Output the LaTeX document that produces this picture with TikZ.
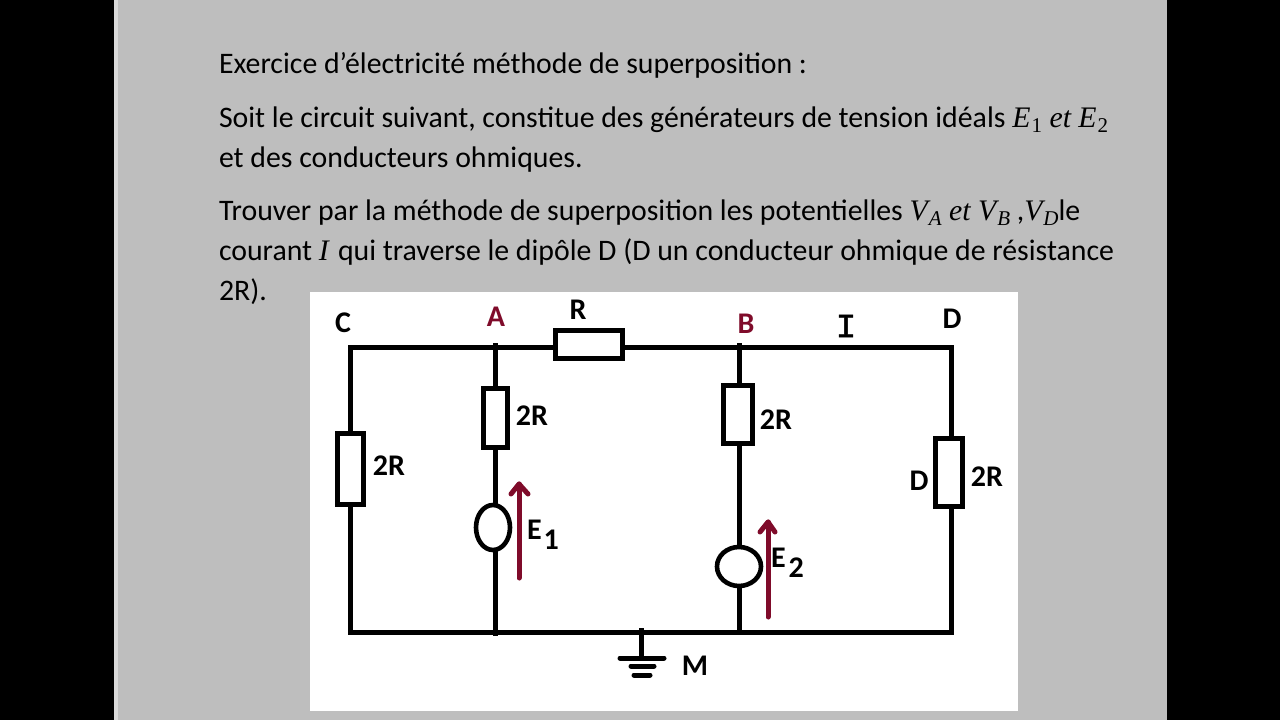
\documentclass[tikz,border=0pt]{standalone}
\usepackage{fontspec}
\setmainfont{Carlito}
\newfontfamily\mthfont{Liberation Serif}
\newfontfamily\monofont[FakeBold=1.5]{Liberation Mono}
\usetikzlibrary{shapes.geometric}
\definecolor{pagegrey}{HTML}{BEBEBE}
\definecolor{edgegrey}{HTML}{DADADA}
\definecolor{darkred}{HTML}{7F0B2A}
\newcommand{\mvar}[2]{{\mthfont\itshape #1\kern1pt\raisebox{-0.2em}{\fontsize{21}{21}\selectfont #2}}}
\newcommand{\mnum}[2]{{\mthfont\itshape #1\kern1pt\raisebox{-0.2em}{\fontsize{21}{21}\selectfont\upshape #2}}}
\newcommand{\met}{{\mthfont\itshape\ et\ }}
\tikzset{
  para/.style={anchor=base west,inner sep=0pt,outer sep=0pt,font=\fontsize{29.8}{34}\selectfont,text=black},
  wire/.style={draw=black,line width=5pt,line cap=butt},
  res/.style={draw=black,fill=white,line width=5pt,rectangle,inner sep=0pt,outer sep=0pt},
  src/.style={draw=black,fill=white,line width=4.6pt,ellipse,inner sep=0pt,outer sep=0pt},
  lbl/.style={inner sep=0pt,outer sep=0pt,font=\fontsize{30}{32}\selectfont\bfseries,text=black},
  redlbl/.style={lbl,text=darkred},
  emfarrow/.style={draw=darkred,line width=5pt,line cap=round,line join=round},
  gbar/.style={draw=black,line width=5pt,line cap=round},
}
\begin{document}
\begin{tikzpicture}[x=1pt,y=-1pt]
\useasboundingbox (0,0) rectangle (1280,720);
\fill[black] (0,0) rectangle (1280,720);
\fill[edgegrey] (114,0) rectangle (118,720);
\fill[pagegrey] (118,0) rectangle (1167,720);
\fill[white] (310,292) rectangle (1018,711);
% text
\node[para] (t1) at (219,73) {Exercice d’électricité méthode de superposition :};
\node[para] (t2) at (219,127) {Soit le circuit suivant, constitue des générateurs de tension idéals \mnum{E}{1}\met\mnum{E}{2}};
\node[para] (t3) at (219,167) {et des conducteurs ohmiques.};
\node[para] (t4) at (219,220) {Trouver par la méthode de superposition les potentielles \mvar{V}{A}\met\mvar{V}{B} ,\mvar{V}{D}le};
\node[para] (t5) at (219,260) {courant {\mthfont\itshape I}\kern2.5pt{} qui traverse le dipôle D (D un conducteur ohmique de résistance};
\node[para] (t6) at (219,300) {2R).};
% junctions
\coordinate (C) at (350,347);
\coordinate (A) at (495,347);
\coordinate (B) at (739,347);
\coordinate (Dt) at (951,347);
\coordinate (Cb) at (350,632);
\coordinate (Ab) at (495,632);
\coordinate (G) at (641,632);
\coordinate (Bb) at (739,632);
\coordinate (Db) at (951,632);
\coordinate (Gg) at (641,658);
% components
\node[res,minimum width=67pt,minimum height=28pt] (Rh) at (589,344.5) {};
\node[res,minimum width=24.5pt,minimum height=59pt] (Ra) at (495.5,418) {};
\node[res,minimum width=26pt,minimum height=71pt] (Rc) at (350.5,469) {};
\node[res,minimum width=29pt,minimum height=58pt] (Rb) at (738,414.5) {};
\node[res,minimum width=27pt,minimum height=68pt] (Rd) at (949,472.5) {};
\node[src,minimum width=34pt,minimum height=45pt] (E1n) at (493,527.5) {};
\node[src,minimum width=44pt,minimum height=39pt] (E2n) at (739,566.5) {};
% wires
\draw[wire,line join=miter] (Rc.north -| C) -- (C) -- (Rh.west |- C);
\draw[wire,line join=miter] (Rh.east |- B) -- (Dt) -- (Rd.north -| Dt);
\draw[wire,line join=miter] (Rc.south -| C) -- (Cb) -- (Db) -- (Rd.south -| Db);
\draw[wire] (A) ++(0,-4) -- (Ra.north -| A);
\draw[wire] (Ra.south -| A) -- (E1n.north -| A);
\draw[wire] (E1n.south -| A) -- (Ab) -- ++(0,4);
\draw[wire] (B) ++(0,-4) -- (Rb.north -| B);
\draw[wire] (Rb.south -| B) -- (E2n.north -| B);
\draw[wire] (E2n.south -| B) -- (Bb);
% ground
\draw[wire] (G) ++(0,-4) -- (Gg);
\draw[gbar] (620,658) -- (664,658);
\draw[gbar] (631,666) -- (654,666);
\draw[gbar] (634,675) -- (650,675);
% emf arrows
\coordinate (a1s) at (519,578); \coordinate (a1e) at (519,484);
\coordinate (a2s) at (768,617); \coordinate (a2e) at (768,522);
\draw[emfarrow] (a1s) -- (a1e);
\draw[emfarrow] (511,494) -- (a1e) -- (528,494);
\draw[emfarrow] (a2s) -- (a2e);
\draw[emfarrow] (760,532) -- (a2e) -- (775,532);
% labels
\node[lbl] (lC) at (343,323) {C};
\node[redlbl] (lA) at (496,317) {A};
\node[lbl] (lR) at (578,310) {R};
\node[redlbl] (lB) at (746,324) {B};
\node[lbl] (lDt) at (952,319) {D};
\node[lbl] (l2a) at (532,416) {2R};
\node[lbl] (l2c) at (389,466) {2R};
\node[lbl] (l2b) at (776,420) {2R};
\node[lbl] (l2d) at (987,477) {2R};
\node[lbl] (lDd) at (919,481) {D};
\node[lbl] (lM) at (695,666) {M};
\node[lbl,anchor=base west] (lE1) at (527,539) {E\kern2pt\raisebox{-10pt}{1}};
\node[lbl,anchor=base west] (lE2) at (771,567) {E\raisebox{-10pt}{\kern3pt 2}};
\node[inner sep=0pt,outer sep=0pt,font=\fontsize{34}{34}\selectfont\monofont] (lI) at (846,326) {I};
\end{tikzpicture}
\end{document}
